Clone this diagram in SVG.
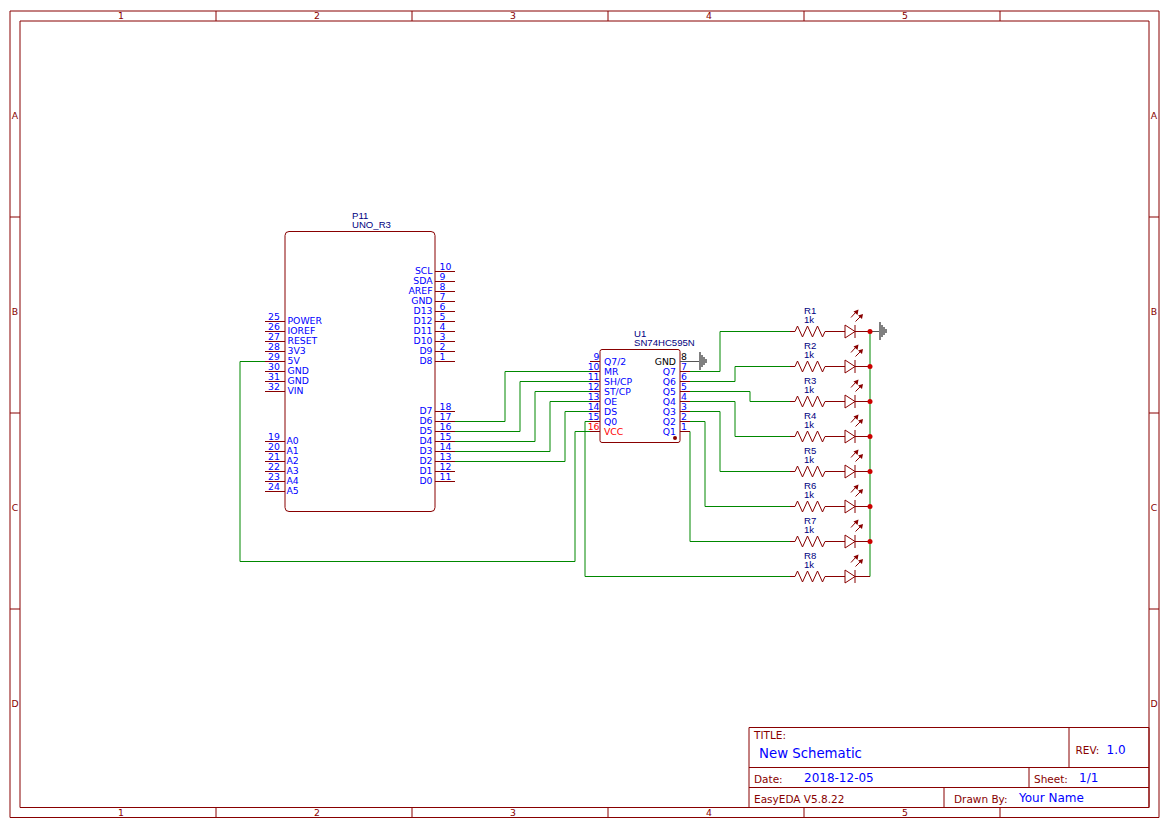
<svg xmlns="http://www.w3.org/2000/svg" width="1169" height="828" viewBox="0 0 1169 828">
<style>
text{font-family:"DejaVu Sans",Verdana,sans-serif;font-size:9.3px;fill:currentColor}
.f{fill:none;stroke:#880000;stroke-width:1}
.w{fill:none;stroke:#008800;stroke-width:1}
.g{fill:none;stroke:#555;stroke-width:1}
.fl{color:#880000;font-size:9.3px;text-anchor:middle}
.tl{color:#880000;font-size:10.5px}
.tv{color:#0000ff;font-size:12px}
.big{font-size:13.3px}
.n{color:#0000ff}
.e{text-anchor:end}
.k{color:#000080;font-family:"Liberation Sans",Arial,sans-serif;font-size:9.6px}
.r{color:#ff0000}
.bk{color:#000}
</style>
<rect width="1169" height="828" fill="#fff"/>
<g id="frame">
<path class="f" d="M10 11H1159V817.500H10ZM20 21H1149V807.500H20Z"/>
<path class="f" d="M216 11V21M412 11V21M608 11V21M804 11V21M1000 11V21M216 807.500V817.500M412 807.500V817.500M608 807.500V817.500M804 807.500V817.500M1000 807.500V817.500M10 217H20M10 413H20M10 609H20M1149 217H1159M1149 413H1159M1149 609H1159"/>
<text class="fl" x="121" y="19">1</text><text class="fl" x="317" y="19">2</text><text class="fl" x="513" y="19">3</text><text class="fl" x="709" y="19">4</text><text class="fl" x="905" y="19">5</text>
<text class="fl" x="121" y="816">1</text><text class="fl" x="317" y="816">2</text><text class="fl" x="513" y="816">3</text><text class="fl" x="709" y="816">4</text><text class="fl" x="905" y="816">5</text>
<text class="fl" x="15" y="119">A</text><text class="fl" x="15" y="315">B</text><text class="fl" x="15" y="511">C</text><text class="fl" x="15" y="707">D</text>
<text class="fl" x="1154" y="119">A</text><text class="fl" x="1154" y="315">B</text><text class="fl" x="1154" y="511">C</text><text class="fl" x="1154" y="707">D</text>
</g>
<g id="title-block">
<path class="f" d="M749 727.500H1149V807.500H749ZM749 767.500H1149M749 787.500H1149M1069 727.500V767.500M1029 767.500V787.500M944 787.500V807.500"/>
<text class="tl" x="754" y="739">TITLE:</text>
<text class="tv big" x="759" y="757.500">New Schematic</text>
<text class="tl" x="1075.500" y="754">REV:</text>
<text class="tv" x="1106.500" y="754">1.0</text>
<text class="tl" x="754" y="782.500">Date:</text>
<text class="tv" x="804" y="782">2018-12-05</text>
<text class="tl" x="1034" y="782.500">Sheet:</text>
<text class="tv" x="1079" y="782">1/1</text>
<text class="tl" x="754" y="802.500">EasyEDA V5.8.22</text>
<text class="tl" x="954" y="802.500">Drawn By:</text>
<text class="tv" x="1019" y="802">Your Name</text>
</g>
<g id="connectors">
<path class="w" d="M265 361.500H240V561.500H575V431.500H590"/>
<path class="w" d="M455 421.500H505V371.500H590M455 431.500H520V381.500H590M455 441.500H535V391.500H590M455 451.500H550V401.500H590M455 461.500H565V411.500H590"/>
<path class="w" d="M590 421.500H585V576.500H790"/>
<path class="w" d="M690 371.500H720V331.500H790M690 381.500H735V366.500H790M690 391.500H750V401.500H790M690 401.500H735V436.500H790M690 411.500H720V471.500H790M690 421.500H705V506.500H790M690 431.500V541.500H790"/>
<path class="w" d="M870 331.500V576.500"/>
</g>
<g id="P11">
<rect class="f" x="285" y="231.500" width="150" height="280" rx="4"/>
<text class="k" x="352" y="219">P11</text><text class="k" x="352" y="228">UNO_R3</text>
<path class="f" d="M265 321.500H285M265 331.500H285M265 341.500H285M265 351.500H285M265 361.500H285M265 371.500H285M265 381.500H285M265 391.500H285M265 441.500H285M265 451.500H285M265 461.500H285M265 471.500H285M265 481.500H285M265 491.500H285M435 271.500H455M435 281.500H455M435 291.500H455M435 301.500H455M435 311.500H455M435 321.500H455M435 331.500H455M435 341.500H455M435 351.500H455M435 361.500H455M435 411.500H455M435 421.500H455M435 431.500H455M435 441.500H455M435 451.500H455M435 461.500H455M435 471.500H455M435 481.500H455"/>
<g class="n">
<text x="268" y="319.500">25</text><text x="268" y="329.500">26</text><text x="268" y="339.500">27</text><text x="268" y="349.500">28</text><text x="268" y="359.500">29</text><text x="268" y="369.500">30</text><text x="268" y="379.500">31</text><text x="268" y="389.500">32</text>
<text x="268" y="439.500">19</text><text x="268" y="449.500">20</text><text x="268" y="459.500">21</text><text x="268" y="469.500">22</text><text x="268" y="479.500">23</text><text x="268" y="489.500">24</text>
<text x="439.500" y="269.500">10</text><text x="439.500" y="279.500">9</text><text x="439.500" y="289.500">8</text><text x="439.500" y="299.500">7</text><text x="439.500" y="309.500">6</text><text x="439.500" y="319.500">5</text><text x="439.500" y="329.500">4</text><text x="439.500" y="339.500">3</text><text x="439.500" y="349.500">2</text><text x="439.500" y="359.500">1</text>
<text x="439.500" y="409.500">18</text><text x="439.500" y="419.500">17</text><text x="439.500" y="429.500">16</text><text x="439.500" y="439.500">15</text><text x="439.500" y="449.500">14</text><text x="439.500" y="459.500">13</text><text x="439.500" y="469.500">12</text><text x="439.500" y="479.500">11</text>
<text x="287.500" y="324">POWER</text><text x="287.500" y="334">IOREF</text><text x="287.500" y="344">RESET</text><text x="287.500" y="354">3V3</text><text x="287.500" y="364">5V</text><text x="287.500" y="374">GND</text><text x="287.500" y="384">GND</text><text x="287.500" y="394">VIN</text>
<text x="286.500" y="444">A0</text><text x="286.500" y="454">A1</text><text x="286.500" y="464">A2</text><text x="286.500" y="474">A3</text><text x="286.500" y="484">A4</text><text x="286.500" y="494">A5</text>
</g>
<g class="n e">
<text x="432.500" y="274">SCL</text><text x="432.500" y="284">SDA</text><text x="432.500" y="294">AREF</text><text x="432.500" y="304">GND</text><text x="432.500" y="314">D13</text><text x="432.500" y="324">D12</text><text x="432.500" y="334">D11</text><text x="432.500" y="344">D10</text><text x="432.500" y="354">D9</text><text x="432.500" y="364">D8</text>
<text x="432.500" y="414">D7</text><text x="432.500" y="424">D6</text><text x="432.500" y="434">D5</text><text x="432.500" y="444">D4</text><text x="432.500" y="454">D3</text><text x="432.500" y="464">D2</text><text x="432.500" y="474">D1</text><text x="432.500" y="484">D0</text>
</g>
</g>
<g id="U1">
<rect class="f" x="600" y="349.500" width="80" height="93" rx="2"/>
<text class="k" x="634" y="337">U1</text><text class="k" x="634" y="346">SN74HC595N</text>
<path class="f" d="M590 361.500H600M590 371.500H600M590 381.500H600M590 391.500H600M590 401.500H600M590 411.500H600M590 421.500H600M590 431.500H600M680 371.500H690M680 381.500H690M680 391.500H690M680 401.500H690M680 411.500H690M680 421.500H690M680 431.500H690"/>
<circle cx="675" cy="438" r="2" fill="#880000"/>
<g class="n e">
<text x="599.500" y="359.500">9</text><text x="599.500" y="369.500">10</text><text x="599.500" y="379.500">11</text><text x="599.500" y="389.500">12</text><text x="599.500" y="399.500">13</text><text x="599.500" y="409.500">14</text><text x="599.500" y="419.500">15</text><text class="r" x="599.500" y="429.500">16</text>
<text class="bk" x="676" y="365">GND</text><text x="676" y="375">Q7</text><text x="676" y="385">Q6</text><text x="676" y="395">Q5</text><text x="676" y="405">Q4</text><text x="676" y="415">Q3</text><text x="676" y="425">Q2</text><text x="676" y="435">Q1</text>
</g>
<g class="n">
<text class="bk" x="681" y="359.500">8</text><text x="681" y="369.500">7</text><text x="681" y="379.500">6</text><text x="681" y="389.500">5</text><text x="681" y="399.500">4</text><text x="681" y="409.500">3</text><text x="681" y="419.500">2</text><text x="681" y="429.500">1</text>
<text x="604" y="365">Q7/2</text><text x="604" y="375">MR</text><text x="604" y="385">SH/CP</text><text x="604" y="395">ST/CP</text><text x="604" y="405">OE</text><text x="604" y="415">DS</text><text x="604" y="425">Q0</text><text class="r" x="604" y="435">VCC</text>
</g>
</g>
<defs>
<g id="res"><path class="f" d="M790 0H795L797.500 -5.500L802.500 5.500L807.500 -5.500L812.500 5.500L817.500 -5.500L822.500 5.500L825 0H845"/></g>
<g id="led"><path class="f" d="M845 -6.500V6.500L855 0ZM855 -6.500V6.500M855 0H870"/><path class="f" d="M851 -14L856 -19.500M855.500 -10L860.500 -15"/><path d="M858.500 -22L857.500 -16.500L853.500 -20ZM863 -17.500L862 -12.500L858 -16Z" fill="#880000"/></g>
<g id="gnd"><path d="M0 -9V9M2 -6V6M4 -4V4M6 -2V2" stroke="#808080" stroke-width="2" fill="none"/></g>
</defs>
<g id="R1"><use href="#res" y="331.500"/><text class="k" x="804" y="314">R1</text><text class="k" x="804" y="323">1k</text></g>
<g id="R2"><use href="#res" y="366.500"/><text class="k" x="804" y="349">R2</text><text class="k" x="804" y="358">1k</text></g>
<g id="R3"><use href="#res" y="401.500"/><text class="k" x="804" y="384">R3</text><text class="k" x="804" y="393">1k</text></g>
<g id="R4"><use href="#res" y="436.500"/><text class="k" x="804" y="419">R4</text><text class="k" x="804" y="428">1k</text></g>
<g id="R5"><use href="#res" y="471.500"/><text class="k" x="804" y="454">R5</text><text class="k" x="804" y="463">1k</text></g>
<g id="R6"><use href="#res" y="506.500"/><text class="k" x="804" y="489">R6</text><text class="k" x="804" y="498">1k</text></g>
<g id="R7"><use href="#res" y="541.500"/><text class="k" x="804" y="524">R7</text><text class="k" x="804" y="533">1k</text></g>
<g id="R8"><use href="#res" y="576.500"/><text class="k" x="804" y="559">R8</text><text class="k" x="804" y="568">1k</text></g>
<g id="LED1"><use href="#led" y="331.500"/></g>
<g id="LED2"><use href="#led" y="366.500"/></g>
<g id="LED3"><use href="#led" y="401.500"/></g>
<g id="LED4"><use href="#led" y="436.500"/></g>
<g id="LED5"><use href="#led" y="471.500"/></g>
<g id="LED6"><use href="#led" y="506.500"/></g>
<g id="LED7"><use href="#led" y="541.500"/></g>
<g id="LED8"><use href="#led" y="576.500"/></g>
<g id="GND1"><path class="g" d="M680 361.500H700"/><use href="#gnd" x="700" y="361"/></g>
<g id="GND2"><path class="g" d="M870 331.500H880"/><use href="#gnd" x="880" y="331"/></g>
<g id="junctions" fill="#cc0000">
<circle cx="870" cy="331.500" r="2.500"/><circle cx="870" cy="366.500" r="2.500"/><circle cx="870" cy="401.500" r="2.500"/><circle cx="870" cy="436.500" r="2.500"/><circle cx="870" cy="471.500" r="2.500"/><circle cx="870" cy="506.500" r="2.500"/><circle cx="870" cy="541.500" r="2.500"/>
</g>
</svg>
